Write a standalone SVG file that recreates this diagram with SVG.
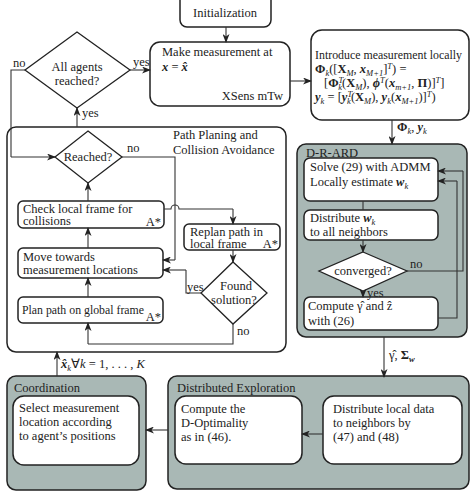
<svg xmlns="http://www.w3.org/2000/svg" width="474" height="495" viewBox="0 0 474 495">
<defs>
<marker id="arr" markerWidth="9" markerHeight="7" refX="8" refY="3.5" orient="auto" markerUnits="userSpaceOnUse">
<path d="M0,0 L9,3.5 L0,7 L2.5,3.5 z" fill="#222"/>
</marker>
<style>
text{font-family:"Liberation Serif","Times New Roman",serif;font-size:12.5px;fill:#222}
.box{fill:#fff;stroke:#222;stroke-width:1.5}
.grp{fill:#a9b8b5;stroke:#222;stroke-width:1.5}
.con{fill:#fff;stroke:#222;stroke-width:1.5}
.dia{fill:#fff;stroke:#222;stroke-width:1.3}
.ln{fill:none;stroke:#333;stroke-width:1.1}
.ar{fill:none;stroke:#333;stroke-width:1.1;marker-end:url(#arr)}
.m{font-style:italic;font-weight:bold}
.b{font-weight:bold}
.i{font-style:italic}
.s{font-size:8.5px}
.mid{text-anchor:middle}
.end{text-anchor:end}
</style>
</defs>
<rect width="474" height="495" fill="#fff"/>

<g id="path-planning">
<rect class="con" x="7" y="127" width="279" height="225" rx="9"/>
<text x="173" y="139">Path Planing and</text>
<text x="173" y="154">Collision Avoidance</text>
</g>

<g id="d-r-ard">
<rect class="grp" x="297" y="144" width="170" height="193" rx="9"/>
<text x="306" y="157">D-R-ARD</text>
</g>

<g id="coordination">
<rect class="grp" x="7" y="376" width="139" height="114" rx="9"/>
<text x="14" y="392">Coordination</text>
</g>

<g id="distributed-exploration">
<rect class="grp" x="168" y="376" width="301" height="113" rx="9"/>
<text x="177" y="392">Distributed Exploration</text>
</g>

<g id="initialization">
<rect class="box" x="180" y="-8" width="91" height="35" rx="7"/>
<text class="mid" x="225" y="17">Initialization</text>
</g>

<g id="make-measurement">
<rect class="box" x="150" y="42" width="140" height="64" rx="10"/>
<text x="162" y="56">Make measurement at</text>
<text x="162" y="71"><tspan class="m">x</tspan> = <tspan class="m">x̂</tspan></text>
<text class="end" x="283" y="100">XSens mTw</text>
</g>

<g id="all-agents">
<polygon class="dia" points="77,32 130,70 77,108 25,70"/>
<text class="mid" x="77" y="71">All agents</text>
<text class="mid" x="77" y="85">reached?</text>
</g>

<g id="introduce">
<rect class="box" x="311" y="30" width="158" height="90" rx="11"/>
<text x="315" y="59" textLength="147" lengthAdjust="spacingAndGlyphs">Introduce measurement locally</text>
<text x="315" y="73"><tspan class="b">Φ</tspan><tspan class="s i" dy="3">k</tspan><tspan dy="-3">([</tspan><tspan class="b">X</tspan><tspan class="s i" dy="3">M</tspan><tspan dy="-3">, </tspan><tspan class="m">x</tspan><tspan class="s i" dy="3">M+1</tspan><tspan dy="-3">]</tspan><tspan class="s i" dy="-4">T</tspan><tspan dy="4">) =</tspan></text>
<text x="324" y="87">[<tspan class="b">Φ</tspan><tspan class="s i" dy="-4">T</tspan><tspan class="s i" dx="-5" dy="7">k</tspan><tspan dy="-3">(</tspan><tspan class="b">X</tspan><tspan class="s i" dy="3">M</tspan><tspan dy="-3">), </tspan><tspan class="m">ϕ</tspan><tspan class="s i" dy="-4">T</tspan><tspan dy="4">(</tspan><tspan class="m">x</tspan><tspan class="s i" dy="3">m+1</tspan><tspan dy="-3">, </tspan><tspan class="b">Π</tspan><tspan>)]</tspan><tspan class="s i" dy="-4">T</tspan><tspan dy="4">]</tspan></text>
<text x="315" y="101"><tspan class="m">y</tspan><tspan class="s i" dy="3">k</tspan><tspan dy="-3"> = [</tspan><tspan class="m">y</tspan><tspan class="s i" dy="-4">T</tspan><tspan class="s i" dx="-5" dy="7">k</tspan><tspan dy="-3">(</tspan><tspan class="b">X</tspan><tspan class="s i" dy="3">M</tspan><tspan dy="-3">), </tspan><tspan class="m">y</tspan><tspan class="s i" dy="3">k</tspan><tspan dy="-3">(</tspan><tspan class="m">x</tspan><tspan class="s i" dy="3">M+1</tspan><tspan dy="-3">)]</tspan><tspan class="s i" dy="-4">T</tspan><tspan dy="4">)</tspan></text>
</g>

<g id="reached">
<polygon class="dia" points="88,131 122,157 88,183 55,157"/>
<text class="mid" x="88" y="161">Reached?</text>
</g>

<g id="check-local">
<rect class="box" x="18" y="201" width="146" height="27" rx="5"/>
<text x="23" y="213">Check local frame for</text>
<text x="23" y="225">collisions</text>
<text class="end" x="161" y="226">A*</text>
</g>

<g id="replan">
<rect class="box" x="184" y="224" width="96" height="26" rx="5"/>
<text x="190" y="236">Replan path in</text>
<text x="190" y="248">local frame</text>
<text class="end" x="278" y="248">A*</text>
</g>

<g id="move-towards">
<rect class="box" x="18" y="248" width="145" height="30" rx="5"/>
<text x="23" y="261">Move towards</text>
<text x="23" y="274">measurement locations</text>
</g>

<g id="found-solution">
<polygon class="dia" points="233,262 267,293 233,324 201,293"/>
<text class="mid" x="236" y="290">Found</text>
<text class="mid" x="234" y="304">solution?</text>
</g>

<g id="plan-path">
<rect class="box" x="18" y="297" width="145" height="26" rx="5"/>
<text x="22" y="314" textLength="122" lengthAdjust="spacingAndGlyphs">Plan path on global frame</text>
<text class="end" x="161" y="321">A*</text>
</g>

<g id="solve">
<rect class="box" x="304" y="158" width="134" height="43" rx="6"/>
<text x="310" y="171">Solve (29) with ADMM</text>
<text x="310" y="186">Locally estimate <tspan class="m">w</tspan><tspan class="s i" dy="3">k</tspan></text>
</g>

<g id="distribute-w">
<rect class="box" x="304" y="210" width="134" height="30" rx="6"/>
<text x="310" y="222">Distribute <tspan class="m">w</tspan><tspan class="s i" dy="3">k</tspan></text>
<text x="310" y="236">to all neighbors</text>
</g>

<g id="converged">
<polygon class="dia" points="363,252 407,271 363,291 319,271"/>
<text class="mid" x="363" y="275">converged?</text>
</g>

<g id="compute-gamma">
<rect class="box" x="304" y="297" width="134" height="33" rx="6"/>
<text x="308" y="310">Compute <tspan>γ̂</tspan> and <tspan>ẑ</tspan></text>
<text x="308" y="325">with (26)</text>
</g>

<g id="select-location">
<rect class="box" x="13" y="396" width="126" height="69" rx="11"/>
<text x="19" y="412">Select measurement</text>
<text x="19" y="426">location according</text>
<text x="19" y="440">to agent’s positions</text>
</g>

<g id="compute-dopt">
<rect class="box" x="175" y="396" width="127" height="68" rx="11"/>
<text x="181" y="413">Compute the</text>
<text x="181" y="427">D-Optimality</text>
<text x="181" y="441">as in (46).</text>
</g>

<g id="distribute-local">
<rect class="box" x="323" y="396" width="139" height="68" rx="11"/>
<text x="333" y="413">Distribute local data</text>
<text x="333" y="427">to neighbors by</text>
<text x="333" y="441">(47) and (48)</text>
</g>

<g id="connectors">
<path class="ar" d="M226,27 V42"/>
<path class="ar" d="M130,70 H150"/>
<text x="133" y="66">yes</text>
<path class="ln" d="M25,70 H11 V157"/>
<path class="ar" d="M11,157 H55"/>
<text x="13" y="67">no</text>
<path class="ar" d="M77,127 V108"/>
<text x="82" y="117">yes</text>
<path class="ar" d="M290,81 H311"/>
<path class="ar" d="M392,120 V144"/>
<text x="397" y="131"><tspan class="b">Φ</tspan><tspan class="s i" dy="3">k</tspan><tspan dy="-3">, </tspan><tspan class="m">y</tspan><tspan class="s i" dy="3">k</tspan></text>
<path class="ln" d="M122,157 H175 V260"/>
<path class="ar" d="M175,260 H163"/>
<text x="127" y="152">no</text>
<path class="ar" d="M88,201 V183"/>
<path class="ar" d="M88,248 V228"/>
<path class="ar" d="M88,297 V278"/>
<path class="ln" d="M164,209 H171 A4,4 0 0 1 179,209 H233"/>
<path class="ar" d="M233,209 V224"/>
<path class="ar" d="M233,250 V262"/>
<path class="ln" d="M201,293 H186 V270"/>
<path class="ar" d="M186,270 H163"/>
<text x="187" y="291">yes</text>
<path class="ln" d="M233,324 V344 H88"/>
<path class="ar" d="M88,344 V323"/>
<text x="237" y="335">no</text>
<path class="ln" d="M363,201 V210"/>
<path class="ar" d="M363,240 V252"/>
<path class="ln" d="M407,271 H463 V171"/>
<path class="ar" d="M463,171 H438"/>
<text x="410" y="268">no</text>
<path class="ln" d="M438,318 H457 V181"/>
<path class="ar" d="M457,181 H438"/>
<path class="ar" d="M363,291 V297"/>
<text x="367" y="297">yes</text>
<path class="ar" d="M384,337 V377"/>
<text x="389" y="359"><tspan>γ̂</tspan>, <tspan class="b">Σ</tspan><tspan class="s m" dy="3">w</tspan></text>
<path class="ar" d="M323,434 H302"/>
<path class="ar" d="M168,430 H146"/>
<path class="ar" d="M57,376 V352"/>
<text x="61" y="368"><tspan class="m">x̂</tspan><tspan class="s i" dy="3">k</tspan><tspan dy="-3">∀</tspan><tspan class="i">k</tspan> = 1, . . . , <tspan class="i">K</tspan></text>
</g>
</svg>
